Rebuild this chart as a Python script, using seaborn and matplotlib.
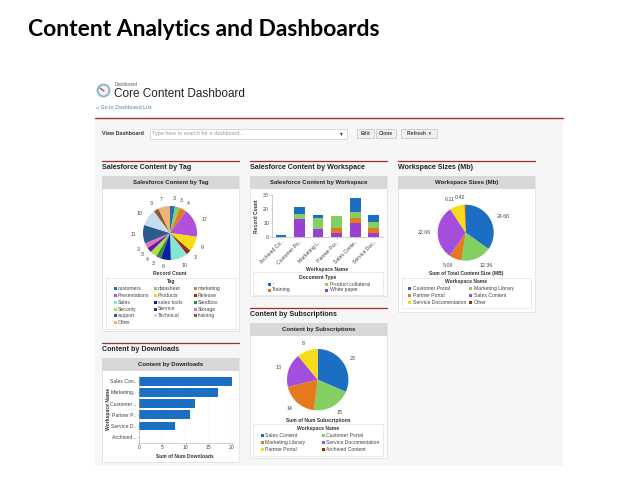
import numpy as np
import pandas as pd
import matplotlib
matplotlib.use("Agg")
import matplotlib.pyplot as plt
from matplotlib.patches import Rectangle
import seaborn as sns

sns.set_theme(style="white")
plt.rcParams['font.family'] = ['Liberation Sans', 'DejaVu Sans']

W, H = 638, 478

tag_names = ["customers", "datasheet", "marketing", "Presentations", "Products", "Release",
             "Sales", "sales tools", "Sandbox", "Security", "Service", "Storage",
             "support", "Technical", "training", "Other"]
tag_values = [3, 3, 4, 17, 9, 3, 10, 6, 3, 4, 3, 3, 11, 10, 3, 7]
tag_colors = ["#1b6ec2", "#84cf62", "#e57a1c", "#b24fdc", "#f6dc16", "#8e3413",
              "#84e6cf", "#0b1ea6", "#2f8a40", "#b4dc4c", "#5a1fa8", "#ee6cc6",
              "#2b5c8e", "#c6dcec", "#8a5c2c", "#efb27a"]

workspaces = ["Archived Co..", "Customer Po..", "Marketing L..", "Partner Por..", "Sales Conte..", "Service Doc.."]
white_paper = [0, 13, 6, 3, 10, 3]
training = [0, 0, 0, 4, 4, 4]
collateral = [0, 4, 8, 8, 4, 4]
dash_type = [2, 5, 2, 0, 10, 5]
doc_names = ["-", "Product collateral", "Training", "White paper"]
doc_colors = ["#1b6ec2", "#84cf62", "#e57a1c", "#9b3fd0"]
bar_ticks = [0, 10, 20, 30]

size_names = ["Customer Portal", "Marketing Library", "Partner Portal", "Sales Content",
              "Service Documentation", "Other"]
size_values = [24.66, 12.36, 5.06, 22.06, 6.11, 0.42]
size_colors = ["#1b6ec2", "#84cf62", "#e57a1c", "#a44fdc", "#f6dc16", "#8e3413"]

dl_names = ["Sales Con..", "Marketing..", "Customer ..", "Partner P..", "Service D..", "Archived .."]
dl_values = [20, 17, 12, 11, 7.8, 0]
dl_ticks = [0, 5, 10, 15, 20]

sub_names = ["Sales Content", "Customer Portal", "Marketing Library", "Service Documentation",
             "Partner Portal", "Archived Content"]
sub_values = [23, 15, 14, 13, 8, 0]
sub_colors = ["#1b6ec2", "#84cf62", "#e57a1c", "#a44fdc", "#f6dc16", "#8e3413"]

fig = plt.figure(figsize=(W / 100, H / 100), dpi=100, facecolor="white")

# overlay in pixel coordinates for the dashboard furniture
bg = fig.add_axes([0, 0, 1, 1], zorder=0)
bg.set_xlim(0, W)
bg.set_ylim(H, 0)
bg.axis("off")


def px_axes(x0, y0, x1, y1):
    ax = fig.add_axes([x0 / W, 1 - y1 / H, (x1 - x0) / W, (y1 - y0) / H], zorder=2)
    ax.patch.set_alpha(0)
    return ax


def box(x0, y0, x1, y1, fc="white", ec="none", lw=0.5):
    bg.add_patch(Rectangle((x0, y0), x1 - x0, y1 - y0, fc=fc, ec=ec, lw=lw))


def label(x, y, s, size=3.5, weight="normal", color="#333333", ha="left", **kw):
    bg.text(x, y, s, fontsize=size, fontweight=weight, color=color, ha=ha, va="center", **kw)


def panel(x0, rule_y, y1, head):
    x1 = x0 + 137
    bg.plot([x0, x1], [rule_y, rule_y], color="#a52a2a", lw=0.9)
    label(x0 + 0.5, rule_y + 6.5, head, size=5.1, weight="bold", color="#222222")
    box(x0, rule_y + 15, x1, y1, fc="white", ec="#dddddd")
    box(x0, rule_y + 15, x1, rule_y + 27.5, fc="#d8d8d8")
    label((x0 + x1) / 2, rule_y + 21.5, head, size=4.3, weight="bold", color="#222222", ha="center")


def legend(x0, y0, x1, y1, title, title_y, names, colors, col_x, row_y):
    box(x0, y0, x1, y1, fc="white", ec="#e2e2e2")
    label((x0 + x1) / 2, title_y, title, size=3.6, weight="bold", ha="center")
    ncol = len(col_x)
    for i, (n, c) in enumerate(zip(names, colors)):
        sx, sy = col_x[i % ncol], row_y[i // ncol]
        box(sx - 1.5, sy - 1.5, sx + 1.5, sy + 1.5, fc=c)
        label(sx + 3, sy, n, size=3.7, color="#444444")


def pie(cx, cy, r, values, colors, texts, dist=1.25):
    ax = px_axes(cx - r, cy - r, cx + r, cy + r)
    ax.pie(values, colors=colors, labels=texts, startangle=90, counterclock=False,
           labeldistance=dist, textprops={"fontsize": 3.8, "color": "#444444"},
           wedgeprops={"lw": 0})
    ax.set_xlim(-1, 1)
    ax.set_ylim(-1, 1)
    return ax


def small_axis(ax):
    ax.tick_params(labelsize=3.7, length=1, width=0.4, pad=1, colors="#444444", bottom=True, left=True)
    sns.despine(ax=ax)
    for s in ["left", "bottom"]:
        ax.spines[s].set_color("#aaaaaa")
        ax.spines[s].set_linewidth(0.4)
    ax.set_xlabel("")
    ax.set_ylabel("")


label(28, 29, "Content Analytics and Dashboards", size=16.5, weight="bold", color="black", family="Lato")

# salesforce page area
box(94, 72, 564, 466, fc="#ffffff")
box(95, 118, 563, 466, fc="#f6f6f6")
bg.plot([95, 563], [118, 118], color="#a03030", lw=1)
bg.scatter([103], [90], s=100, color="#8fb4cc", zorder=3, lw=0)
bg.scatter([103], [90], s=50, color="#f2f2f2", zorder=3, lw=0)
bg.plot([100, 104], [88, 91], color="#a03030", lw=0.8, zorder=4)
label(115, 84, "Dashboard", size=3.3, color="#555555")
label(114, 93.5, "Core Content Dashboard", size=8.5, color="#222222")
label(96, 107.5, "« Go to Dashboard List", size=3.9, color="#4b86b8")
label(102, 133.5, "View Dashboard", size=3.9, weight="bold", color="#333333")
box(150, 129, 347, 138.5, ec="#cccccc")
label(152, 133.7, "Type here to search for a dashboard...", size=3.9, color="#999999")
label(341, 134, "▾", size=4, color="#333333", ha="center")
for x0, x1, s in [(357, 374, "Edit"), (376, 396, "Clone"), (401, 437, "Refresh  ▾")]:
    box(x0, 129, x1, 138, fc="#efefef", ec="#c4c4c4")
    label((x0 + x1) / 2, 133.5, s, size=3.6, weight="bold", color="#444444", ha="center")

panel(102, 161, 331, "Salesforce Content by Tag")
panel(250, 161, 296, "Salesforce Content by Workspace")
panel(398, 161, 312, "Workspace Sizes (Mb)")
panel(250, 308, 458, "Content by Subscriptions")
panel(102, 343, 462, "Content by Downloads")

# tag pie
pie(170, 233, 27, tag_values, tag_colors, [str(v) for v in tag_values], dist=1.27)
label(170, 273.7, "Record Count", size=3.6, weight="bold", ha="center")
legend(106, 278, 236, 329, "Tag", 282, tag_names, tag_colors, [115, 155, 195],
       [288.7, 295.5, 302.2, 309, 315.7, 322.7])

# stacked bars
ax = px_axes(271.7, 195.3, 383, 237.3)
frame = pd.DataFrame({"ws": workspaces, "wp": white_paper, "tr": training, "pc": collateral, "da": dash_type})
bottom = np.zeros(len(frame))
for col, c in zip(["wp", "tr", "pc", "da"], [doc_colors[3], doc_colors[2], doc_colors[1], doc_colors[0]]):
    sns.barplot(data=frame, x="ws", y=col, color=c, saturation=1, width=0.58, bottom=bottom, ax=ax, lw=0)
    bottom = bottom + frame[col].to_numpy()
ax.set_ylim(0, 30)
ax.set_yticks(bar_ticks)
small_axis(ax)
ax.tick_params(axis="x", pad=0.5)
plt.setp(ax.get_xticklabels(), rotation=45, ha="right", rotation_mode="anchor")
label(256.5, 216, "Record Count", size=3.6, weight="bold", ha="center", rotation=90)
label(327, 269.3, "Workspace Name", size=3.6, weight="bold", ha="center")
legend(253, 272, 383, 295, "Document Type", 277, doc_names, doc_colors, [269.3, 326.7], [284, 290])

# workspace sizes pie
pie(465.7, 232.7, 28, size_values, size_colors, [f"{v:.2f}" for v in size_values], dist=1.26)
label(466, 273.7, "Sum of Total Content Size (MB)", size=3.6, weight="bold", ha="center")
legend(402, 278, 531, 308, "Workspace Name", 282, size_names, size_colors, [409.7, 470.7], [288.7, 295.5, 302.3])

# downloads bars
ax = px_axes(139, 375.7, 232, 442.7)
sns.barplot(x=dl_values, y=dl_names, orient="h", color="#1b6ec2", saturation=1, width=0.78, ax=ax, lw=0)
ax.set_xlim(0, 20)
ax.set_xticks(dl_ticks)
ax.xaxis.grid(True, color="#dddddd", lw=0.3, ls=":")
ax.set_axisbelow(True)
small_axis(ax)
label(108.7, 409, "Workspace Name", size=3.6, weight="bold", ha="center", rotation=90)
label(185, 456, "Sum of Num Downloads", size=3.6, weight="bold", ha="center")

# subscriptions pie
pie(317.7, 379.7, 30.7, sub_values, sub_colors, [str(v) if v else "" for v in sub_values], dist=1.24)
label(318, 420.7, "Sum of Num Subscriptions", size=3.6, weight="bold", ha="center")
legend(253, 424, 383, 456, "Workspace Name", 428.7, sub_names, sub_colors, [262, 323], [435.3, 442.3, 449.3])

fig.savefig("out.png", dpi=100)
